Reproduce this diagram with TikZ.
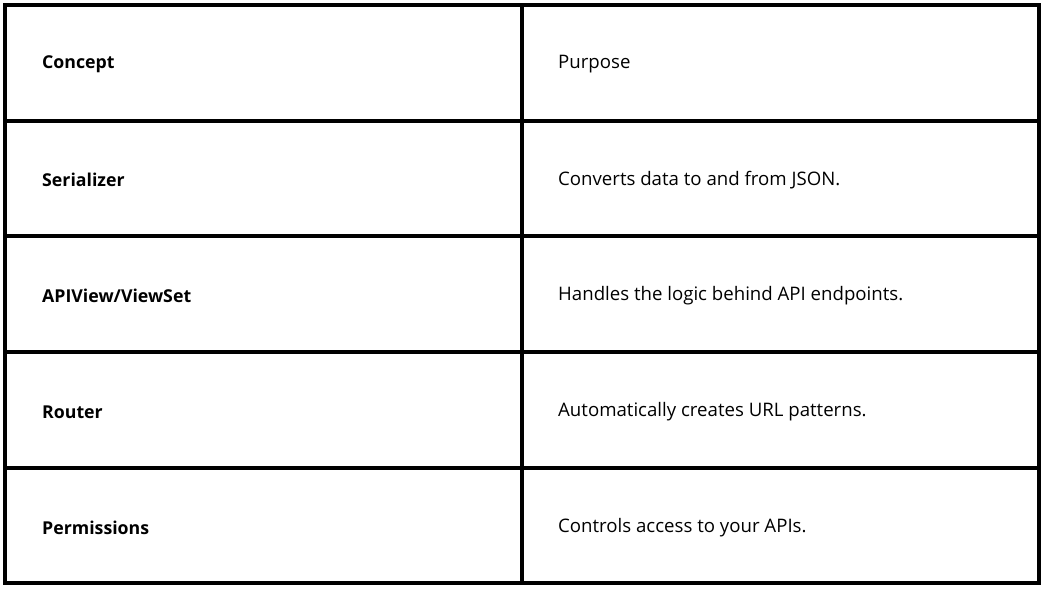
\documentclass[tikz,border=0pt]{standalone}
\usepackage{fontspec}
\setmainfont{Open Sans}
\begin{document}
\begin{tikzpicture}[x=1bp,y=-1bp,
  grid/.style={line width=3.5bp,black},
  head/.style={anchor=west,font=\bfseries\fontsize{17.8}{20}\selectfont,inner sep=0},
  cell/.style={anchor=west,font=\fontsize{18.7}{21}\selectfont,inner sep=0}]
\useasboundingbox[fill=white] (0,0) rectangle (1047,590);
\draw[grid] (5,5) rectangle (1039,583);
\draw[grid] (522,5) -- (522,583);
\foreach \y in {121,236,352,468} \draw[grid] (5,\y) -- (1039,\y);
\node[head] (c1) at (42,64) {Concept};
\node[cell] (p1) at (558,64) {Purpose};
\node[head] (c2) at (42,180) {Serializer};
\node[cell] (p2) at (558,180) {Converts data to and from JSON.};
\node[head] (c3) at (42,296) {APIView/ViewSet};
\node[cell] (p3) at (558,296) {Handles the logic behind API endpoints.};
\node[head] (c4) at (42,412) {Router};
\node[cell] (p4) at (558,412) {Automatically creates URL patterns.};
\node[head] (c5) at (42,528) {Permissions};
\node[cell] (p5) at (558,528) {Controls access to your APIs.};
\end{tikzpicture}
\end{document}
